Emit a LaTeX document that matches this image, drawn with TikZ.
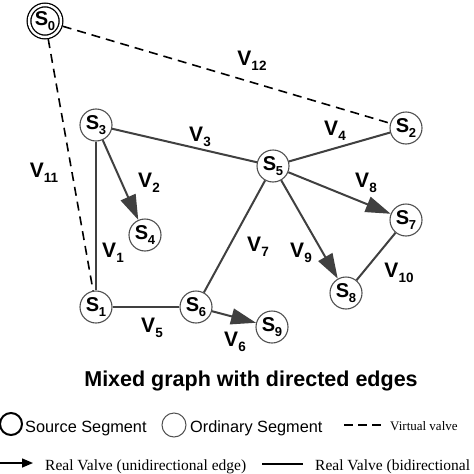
\documentclass[tikz,border=0pt]{standalone}
\usepackage{fontspec}
\setmainfont{Liberation Sans}
\newfontfamily\tnr{Liberation Serif}
\usetikzlibrary{arrows.meta}
\definecolor{edgegray}{HTML}{404040}
\definecolor{nodegray}{HTML}{505050}
\newcommand\seg[1]{\bfseries S\kern-0.5pt\raisebox{-0.45ex}{\fontsize{13}{13}\selectfont #1}}
\newcommand\val[1]{\bfseries V\raisebox{-0.45ex}{\fontsize{13.5}{13.5}\selectfont #1}}
\begin{document}
\begin{tikzpicture}[x=1pt,y=-1pt,
  seg/.style={circle,draw=nodegray,line width=1.1pt,fill=white,minimum size=32pt,inner sep=0pt,font=\fontsize{20}{20}\selectfont},
  src/.style={seg,draw=black,double=white,double distance=2.4pt,line width=1.3pt,outer sep=2.5pt},
  vlab/.style={font=\fontsize{21}{21}\selectfont,inner sep=0pt},
  real/.style={draw=edgegray,line width=2pt},
  uni/.style={real,-{Triangle[length=25pt,width=16pt]}},
  virt/.style={draw=black,line width=1.6pt,dash pattern=on 9pt off 6pt},
  legsans/.style={font=\fontsize{16.3}{16.3}\selectfont,inner sep=0pt,anchor=base west},
  legser/.style={font=\tnr\fontsize{15.5}{15.5}\selectfont,inner sep=0pt,anchor=base west}]
\useasboundingbox (0,0) rectangle (474,474);
\clip (0,0) rectangle (474,474);
% nodes
\node[src] (s0) at (45,21) {\seg{0}};
\node[seg] (s1) at (96,307) {\seg{1}};
\node[seg] (s2) at (406,128) {\seg{2}};
\node[seg] (s3) at (96,125) {\seg{3}};
\node[seg] (s4) at (145,235) {\seg{4}};
\node[seg] (s5) at (273,166) {\seg{5}};
\node[seg] (s6) at (196,307) {\seg{6}};
\node[seg] (s7) at (406,220) {\seg{7}};
\node[seg] (s8) at (346,293) {\seg{8}};
\node[seg] (s9) at (272,327) {\seg{9}};
% edges
\draw[virt] (s0) -- (s2);
\draw[virt] (s0) -- (s1);
\draw[real] (s3) -- (s1);
\draw[uni] (s3) -- (s4);
\draw[real] (s3) -- (s5);
\draw[real] (s5) -- (s2);
\draw[real] (s1) -- (s6);
\draw[uni] (s6) -- (s9);
\draw[real] (s5) -- (s6);
\draw[uni] (s5) -- (s7);
\draw[uni] (s5) -- (s8);
\draw[real] (s7) -- (s8);
% labels
\node[vlab] (v1) at (113,253) {\val{1}};
\node[vlab] (v2) at (149,183) {\val{2}};
\node[vlab] (v3) at (200,137) {\val{3}};
\node[vlab] (v4) at (335,131) {\val{4}};
\node[vlab] (v5) at (152,328) {\val{5}};
\node[vlab] (v6) at (235,342) {\val{6}};
\node[vlab] (v7) at (258,247) {\val{7}};
\node[vlab] (v8) at (366,183) {\val{8}};
\node[vlab] (v9) at (301,253) {\val{9}};
\node[vlab] (v10) at (399,273) {\val{10}};
\node[vlab] (v11) at (44,173) {\val{11}};
\node[vlab] (v12) at (252,61) {\val{12}};
% title
\node[font=\bfseries\fontsize{21.5}{21.5}\selectfont,anchor=base,inner sep=0pt] (title) at (251,386) {Mixed graph with directed edges};
% legend row 1
\node[circle,draw=black,line width=2pt,minimum size=22pt,inner sep=0pt] (lsrc) at (11,424) {};
\node[legsans] (tsrc) at (25,432) {Source Segment};
\node[circle,draw=nodegray,line width=1pt,minimum size=24pt,inner sep=0pt] (lord) at (174,425) {};
\node[legsans] (tord) at (190,432) {Ordinary Segment};
\coordinate (lv0) at (344,425);
\coordinate (lv1) at (383,425);
\draw[black,line width=1.3pt,dash pattern=on 9pt off 5pt] (lv0) -- (lv1);
\node[font=\tnr\fontsize{13}{13}\selectfont,inner sep=0pt,anchor=base west] (tvirt) at (390,430) {Virtual valve};
% legend row 2
\coordinate (la0) at (0,463);
\coordinate (la1) at (33,463);
\draw[black,line width=1.5pt,-{Triangle[length=11pt,width=9pt]}] (la0) -- (la1);
\node[legser] (tuni) at (45,470) {Real Valve (unidirectional edge)};
\coordinate (lb0) at (262,464);
\coordinate (lb1) at (303,464);
\draw[black,line width=1.3pt] (lb0) -- (lb1);
\node[legser] (tbi) at (315,470) {Real Valve (bidirectional};
\end{tikzpicture}
\end{document}
